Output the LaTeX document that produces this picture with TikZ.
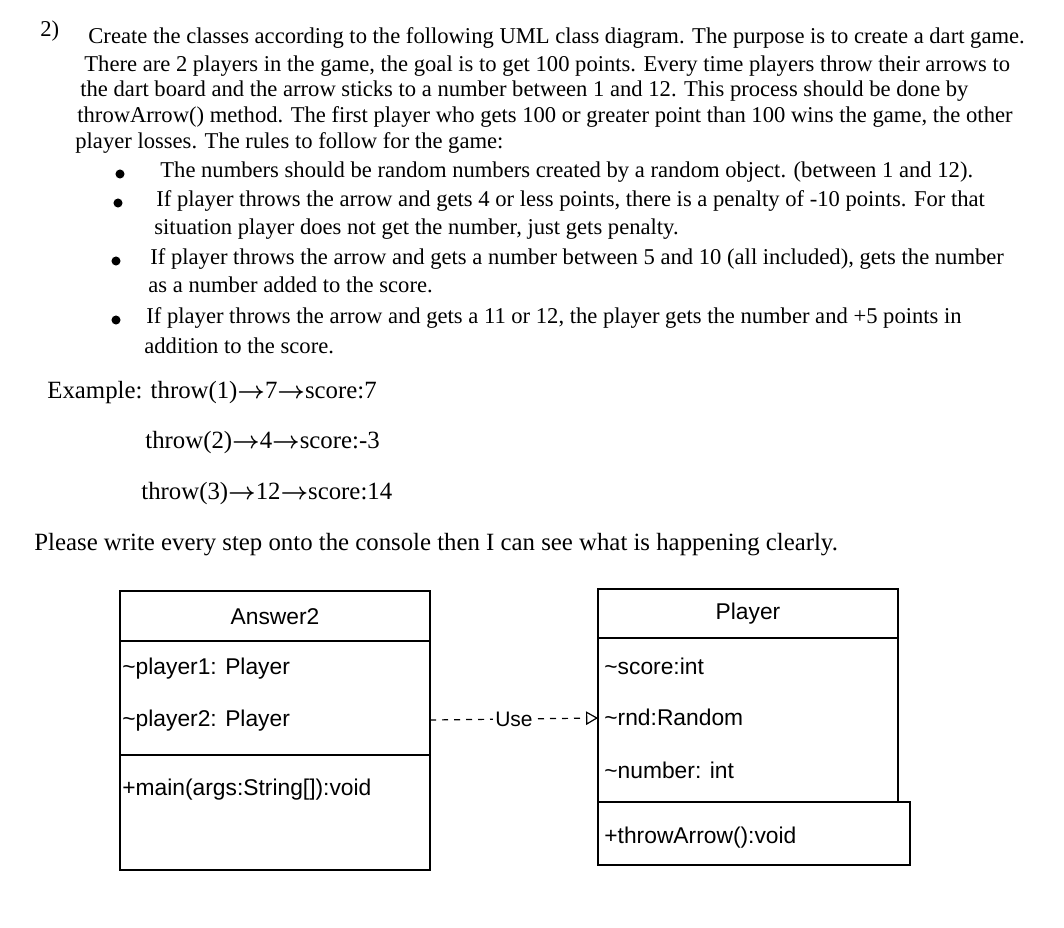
\documentclass[tikz,border=0pt]{standalone}
\usepackage{fontspec}
\setmainfont{Liberation Serif}
\setsansfont{Liberation Sans}
\usetikzlibrary{arrows, positioning, calc}
\newcommand{\thr}{\mbox{\boldmath$\rightarrow$}}
\begin{document}
\begin{tikzpicture}[x=0.5pt, y=-0.5pt, >=open triangle 60]

% Styles
\tikzstyle{line} = [anchor=west, inner sep=0pt, font=\fontsize{11.3}{13}\selectfont]
\tikzstyle{bigline} = [anchor=west, inner sep=0pt, font=\fontsize{12.4}{14}\selectfont]
\tikzstyle{bul} = [circle, fill=black, inner sep=1.6pt]
\tikzstyle{uml} = [anchor=west, inner sep=0pt, font=\sffamily\fontsize{11.4}{13}\selectfont]
\tikzstyle{box} = [draw=black, line width=0.7pt]

\useasboundingbox (0,0) rectangle (1064,927);
\fill[white] (0,0) rectangle (1064,927);

% --- Task text ---
\node[line] (num) at (40,31) {2)};
\node[line] (t1) at (88,38) {Create the classes according to the following UML class diagram. The purpose is to create a dart game.};
\node[line] (t2) at (84,66) {There are 2 players in the game, the goal is to get 100 points. Every time players throw their arrows to};
\node[line] (t3) at (80,91) {the dart board and the arrow sticks to a number between 1 and 12. This process should be done by};
\node[line] (t4) at (77,117) {throwArrow() method. The first player who gets 100 or greater point than 100 wins the game, the other};
\node[line] (t5) at (75,143) {player losses. The rules to follow for the game:};

% bullets
\node[bul] (b1) at (120,174) {};
\node[line] (r1) at (160,172) {The numbers should be random numbers created by a random object. (between 1 and 12).};
\node[bul] (b2) at (118,203) {};
\node[line] (r2) at (156,201) {If player throws the arrow and gets 4 or less points, there is a penalty of -10 points. For that};
\node[line] (r3) at (154,229) {situation player does not get the number, just gets penalty.};
\node[bul] (b3) at (116,261) {};
\node[line] (r4) at (150,259) {If player throws the arrow and gets a number between 5 and 10 (all included), gets the number};
\node[line] (r5) at (148,285) {as a number added to the score.};
\node[bul] (b4) at (116,320) {};
\node[line] (r6) at (146,318) {If player throws the arrow and gets a 11 or 12, the player gets the number and +5 points in};
\node[line] (r7) at (144,346) {addition to the score.};

% example
\node[bigline] (ex1) at (47,393) {Example: throw(1)\thr7\thr score:7};
\node[bigline] (ex2) at (145,443) {throw(2)\thr4\thr score:-3};
\node[bigline] (ex3) at (141,494) {throw(3)\thr12\thr score:14};
\node[bigline] (pls) at (34,545) {Please write every step onto the console then I can see what is happening clearly.};

% --- UML: Answer2 ---
\draw[box] (120,591) rectangle (430,870);
\draw[box] (120,641) -- (430,641);
\draw[box] (120,755) -- (430,755);
\node[uml, anchor=center] (ans) at (275,617) {Answer2};
\node[uml] (p1) at (122,669) {\textasciitilde player1: Player};
\node[uml] (p2) at (122,721) {\textasciitilde player2: Player};
\node[uml] (mn) at (122,790) {+main(args:String[]):void};

% --- UML: Player ---
\draw[box] (598,589) rectangle (898,802);
\draw[box] (598,638) -- (898,638);
\draw[box] (598,802) rectangle (910,865);
\node[uml, anchor=center] (ply) at (748,614) {Player};
\node[uml] (sc) at (604,666) {\textasciitilde score:int};
\node[uml] (rnd) at (604,717) {\textasciitilde rnd:Random};
\node[uml] (nb) at (604,770) {\textasciitilde number: int};
\node[uml] (ta) at (604,838) {+throwArrow():void};

% --- Dependency ---
\coordinate (from) at (430,720);
\coordinate (to) at (598,718);
\draw[->, dashed, line width=0.6pt] (from) -- node[fill=white, inner sep=1pt, font=\sffamily\fontsize{10.5}{12}\selectfont] (use) {Use} (to);

\end{tikzpicture}
\end{document}
